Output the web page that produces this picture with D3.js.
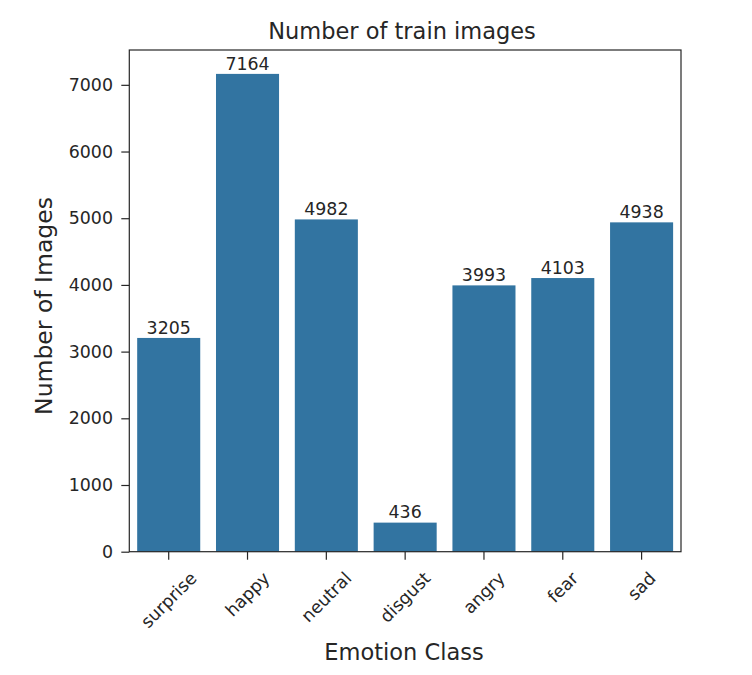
<!DOCTYPE html>
<html><head><meta charset="utf-8">
<script src="https://cdn.jsdelivr.net/npm/d3@7"></script>
<style>body{margin:0;background:#fff}svg{display:block}text{font-family:"DejaVu Sans",sans-serif;fill:#262626}</style>
</head><body>
<svg id="c" width="752" height="675"></svg>
<script>
const categories = ["surprise","happy","neutral","disgust","angry","fear","sad"];
const counts = [3205,7164,4982,436,3993,4103,4938];
const yTicks = [0,1000,2000,3000,4000,5000,6000,7000];

const svg = d3.select("#c");
const L=129.3, R=681, T=50, B=551.7;
const FS = 17.4, TICK = 8, PAD = 8.3;
const x = d3.scaleBand().domain(categories).range([L,R]).paddingInner(0.2).paddingOuter(0.1);
const y = d3.scaleLinear().domain([0, d3.max(counts)*1.05]).range([B,T]);

svg.append("g").selectAll("rect").data(categories).join("rect")
  .attr("x", d=>x(d)).attr("width", x.bandwidth())
  .attr("y", (d,i)=>y(counts[i])).attr("height",(d,i)=>B-y(counts[i]))
  .attr("fill","#3274a1");

svg.append("g").selectAll("text").data(categories).join("text")
  .attr("x", d=>x(d)+x.bandwidth()/2).attr("y",(d,i)=>y(counts[i])-4.3)
  .attr("text-anchor","middle").attr("font-size",FS+"px").text((d,i)=>counts[i]);

// axes
const yAxis = svg.append("g").attr("transform",`translate(${L},0)`)
  .call(d3.axisLeft(y).tickValues(yTicks).tickSize(TICK).tickPadding(PAD).tickFormat(d3.format("d")));
const xAxis = svg.append("g").attr("transform",`translate(0,${B})`)
  .call(d3.axisBottom(x).tickSize(TICK).tickFormat(""));
[yAxis,xAxis].forEach(g=>{g.select(".domain").remove();g.selectAll("line").attr("stroke","#262626").attr("stroke-width",1.2);g.selectAll("text").attr("font-size",FS+"px").attr("fill","#262626").attr("font-family","DejaVu Sans")});

// rotated x labels (bbox centered under tick)
categories.forEach(c=>{
  const t = svg.append("text").attr("font-size",FS+"px").attr("text-anchor","middle").attr("dominant-baseline","central").text(c);
  const w = t.node().getComputedTextLength(), h = FS*1.16;
  const bh = (w+h)/Math.SQRT2;
  const cx = x(c)+x.bandwidth()/2, cy = B+TICK+PAD+bh/2;
  t.attr("transform",`translate(${cx},${cy}) rotate(-45)`);
});

// frame
svg.append("rect").attr("x",L).attr("y",T).attr("width",R-L).attr("height",B-T)
  .attr("fill","none").attr("stroke","#262626").attr("stroke-width",1.2);

svg.append("text").attr("x",402).attr("y",38.5).attr("text-anchor","middle").attr("font-size","22.5px").text("Number of train images");
svg.append("text").attr("x",404).attr("y",659.5).attr("text-anchor","middle").attr("font-size","22.5px").text("Emotion Class");
svg.append("text").attr("transform",`translate(52,306) rotate(-90)`).attr("text-anchor","middle").attr("font-size","23.5px").text("Number of Images");
</script>
</body></html>
